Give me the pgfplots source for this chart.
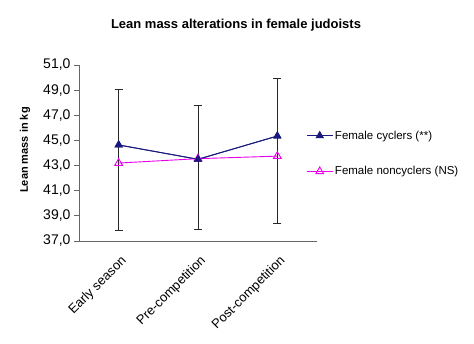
\documentclass[border=0pt]{standalone}
\usepackage{fontspec}
\setmainfont{Liberation Sans}
\usepackage{pgfplots}
\usepackage{pgfplotstable}
\pgfplotsset{compat=1.18}
\definecolor{cyc}{RGB}{25,25,125}
\definecolor{noncyc}{RGB}{235,0,235}
\pgfplotstableread{
x y ep em
0 44.64 4.45 6.84
1 43.50 4.30 5.60
2 45.35 4.55 6.95
}\errtab
\begin{document}
\begin{tikzpicture}
\useasboundingbox (0,0) rectangle (474pt,343pt);
\node[font=\fontsize{13}{15}\selectfont\bfseries] at (236pt,318pt) {Lean mass alterations in female judoists};
\begin{axis}[
  at={(79pt,102pt)}, anchor=south west,
  width=238pt, height=176pt, scale only axis,
  clip=false,
  xmin=-0.5, xmax=2.5, ymin=37, ymax=51,
  axis x line*=bottom, axis y line*=left,
  axis line style={gray!80!black, line width=0.8pt},
  xtick={0,1,2},
  xticklabels={Early season, Pre-competition, Post-competition},
  x tick style={draw=none},
  xticklabel style={rotate=45, anchor=north east, font=\fontsize{13}{15}\selectfont, inner sep=2pt, yshift=-5pt, xshift=-3pt},
  ytick={37,39,...,51},
  y tick style={gray!80!black, line width=0.8pt},
  tick align=outside, major tick length=5pt,
  yticklabel style={font=\fontsize{14}{16}\selectfont, /pgf/number format/.cd, fixed, fixed zerofill, precision=1, use comma, assume math mode=true},
  ylabel={Lean mass in kg},
  ylabel style={font=\fontsize{11}{13}\selectfont\bfseries, at={(axis description cs:-0.227,0.517)}, anchor=center},
  legend style={draw=none, fill=none, at={(axis description cs:0.955,0.497)}, anchor=west, row sep=22pt, font=\fontsize{11.5}{13}\selectfont, inner sep=0pt},
  legend cell align=left,
  legend image code/.code={\draw[mark repeat=2,mark phase=2,#1] plot coordinates {(0cm,0cm) (0.45cm,0cm) (0.9cm,0cm)};},
]
\addplot[draw=none, mark=none, forget plot,
  error bars/.cd, y dir=both, y explicit,
  error bar style={black!85, line width=0.9pt},
  error mark options={rotate=90, mark size=4pt, line width=0.9pt, black!85}]
  table[x=x, y=y, y error plus=ep, y error minus=em] {\errtab};
\addplot[cyc, line width=0.9pt, mark=triangle*, mark size=4pt, mark options={fill=cyc}]
  coordinates {(0,44.64) (1,43.5) (2,45.35)};
\addplot[noncyc, line width=0.9pt, mark=triangle, mark size=4.5pt, mark options={line width=0.9pt, fill=white}]
  coordinates {(0,43.2) (1,43.55) (2,43.75)};
\addplot[cyc, line width=0.9pt, mark=triangle*, mark size=4pt, mark options={fill=cyc}, forget plot]
  coordinates {(0,44.64) (1,43.5) (2,45.35)};
\legend{Female cyclers (**), Female noncyclers (NS)}
\end{axis}
\end{tikzpicture}
\end{document}
